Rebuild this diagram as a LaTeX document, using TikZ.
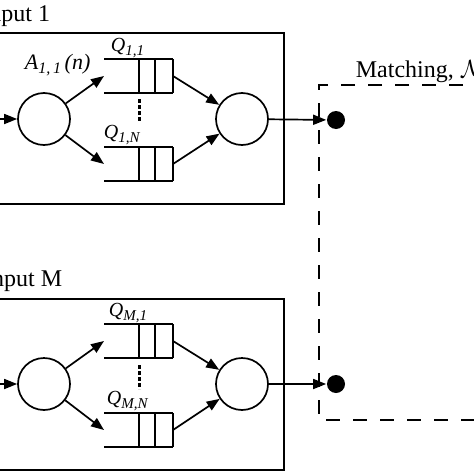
\documentclass[tikz,border=0pt]{standalone}
\usepackage{fontspec}
\setmainfont{Liberation Serif}
\usetikzlibrary{arrows.meta}
\newcommand\biglab{\fontsize{24}{28}\selectfont}
\newcommand\qlabel[3]{\textit{#1}\raisebox{-0.22em}{\fontsize{#3}{#3}\selectfont\itshape #2}}
\begin{document}
\begin{tikzpicture}[x=1pt,y=-1pt,line width=1.7pt,
  srv/.style={circle,draw,minimum size=52pt,inner sep=0pt},
  tok/.style={circle,fill,minimum size=18pt,inner sep=0pt},
  arr/.style={-{Triangle[length=13pt,width=10pt]}},
  qlab/.style={font=\fontsize{20}{22}\selectfont,inner sep=0pt,anchor=base west},
  alab/.style={font=\fontsize{22}{24}\selectfont,inner sep=0pt,anchor=base west},
  title/.style={font=\biglab,inner sep=0pt},
  vdots/.style={line width=3pt,dash pattern=on 3.5pt off 2.5pt},
  mbox/.style={dash pattern=on 14pt off 13pt},
  queue/.pic={
    \draw (0,-17) -- (69,-17) (0,17) -- (69,17)
          (35,-17) -- (35,17) (51,-17) -- (51,17) (69,-17) -- (69,17);
    \coordinate (-in) at (0,0);
    \coordinate (-out) at (69,0);
  }]
\useasboundingbox (0,0) rectangle (474,474);
\clip (0,0) rectangle (474,474);

% ---------- Input 1 ----------
\node[title,anchor=base east] (t1) at (51,21) {Input 1};
\draw (-10,33) rectangle (284,204);
\coordinate (in1) at (-20,119);
\node[srv] (c1) at (44,119) {};
\node[srv] (c2) at (242,119) {};
\pic (q11) at (104,76) {queue};
\pic (q1N) at (104,164) {queue};
\draw[vdots] (139,99) -- (139,123);
\node[qlab] (l11) at (110,51) {\qlabel{Q}{1,1}{15}};
\node[qlab] (l1N) at (103,138) {\qlabel{Q}{1,N}{15}};
\node[alab] (a11) at (24,69) {\qlabel{A}{1,\,1}{16}\,\textit{(n)}};
\draw[arr] (in1) -- (c1);
\draw[arr] (c1) -- (q11-in);
\draw[arr] (c1) -- (q1N-in);
\draw[arr] (q11-out) -- (c2);
\draw[arr] (q1N-out) -- (c2);

% ---------- Input M ----------
\node[title,anchor=base east] (tM) at (63,286) {Input M};
\draw (-10,299) rectangle (284,470);
\coordinate (inM) at (-20,384);
\node[srv] (c3) at (44,384) {};
\node[srv] (c4) at (242,384) {};
\pic (qM1) at (104,341) {queue};
\pic (qMN) at (104,430) {queue};
\draw[vdots] (139,365) -- (139,389);
\node[qlab] (lM1) at (108,316) {\qlabel{Q}{M,1}{15}};
\node[qlab] (lMN) at (106,404) {\qlabel{Q}{M,N}{15}};
\draw[arr] (inM) -- (c3);
\draw[arr] (c3) -- (qM1-in);
\draw[arr] (c3) -- (qMN-in);
\draw[arr] (qM1-out) -- (c4);
\draw[arr] (qMN-out) -- (c4);

% ---------- Matching ----------
\node[title,anchor=base west] (mt) at (355,77) {Matching, $\mathcal{M}$};
\draw[mbox] (490,85) -- (319,85) -- (319,420) -- (490,420);
\node[tok] (d1) at (336,120) {};
\node[tok] (d2) at (336,384) {};
\draw[arr] (c2) -- (d1);
\draw[arr] (c4) -- (d2);
\end{tikzpicture}
\end{document}
